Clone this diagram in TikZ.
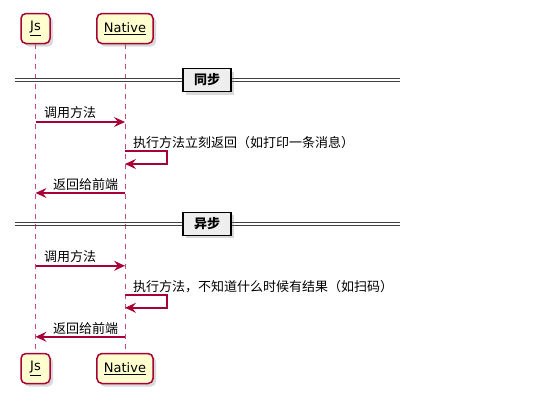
\documentclass[tikz,border=0pt]{standalone}
\usepackage{fontspec}
\setmainfont{DejaVu Sans}
\newfontfamily\cjk{Noto Sans CJK SC}
\usetikzlibrary{arrows.meta,shadows}
\definecolor{umlred}{HTML}{A80036}
\definecolor{umlyellow}{HTML}{FEFECE}
\definecolor{sepgrey}{HTML}{EEEEEE}
\begin{document}
\begin{tikzpicture}[x=1pt,y=-1pt,
		every node/.style={font=\fontsize{13}{15}\selectfont},
		actor/.style={draw=umlred,line width=1.5pt,fill=umlyellow,rounded corners=5pt,
				minimum height=30pt,inner xsep=7pt,
				drop shadow={shadow xshift=3pt,shadow yshift=-3pt,opacity=0.3}},
		lifeline/.style={draw=umlred!70,line width=1pt,dash pattern=on 5pt off 5pt},
		sepline/.style={black!75,line width=1.2pt},
		seplabel/.style={draw=black,line width=1.5pt,fill=sepgrey,minimum width=48pt,
				minimum height=23pt,font=\fontsize{13}{15}\selectfont\cjk\bfseries,
				drop shadow={shadow xshift=3pt,shadow yshift=-3pt,opacity=0.3}},
		msg/.style={umlred,line width=1.4pt,-{Stealth[length=11pt,width=10pt,inset=4pt]}},
		msglabel/.style={anchor=west,inner sep=0pt,font=\fontsize{13}{15}\selectfont\cjk}]
	\useasboundingbox (0,0) rectangle (560,402);
	\foreach \n/\t/\x/\w in {js/Js/35.5/29,native/Native/125/56} {
			\draw[lifeline] (\x,44) -- (\x,354);
			\node[actor,minimum width=\w pt] (\n-top) at (\x,28.5) {\underline{\t}};
			\node[actor,minimum width=\w pt] (\n-bot) at (\x,368.5) {\underline{\t}};
		}
	\foreach \y/\t/\s [count=\i] in {0/同步/执行方法立刻返回（如打印一条消息）,143.8/异步/执行方法，不知道什么时候有结果（如扫码）} {
			\begin{scope}[shift={(0,\y)}]
				% separator
				\draw[sepline] (15,78.3) -- (400,78.3);
				\draw[sepline] (15,81.7) -- (400,81.7);
				\node[seplabel] (sep\i) at (207,80) {\t};
				% call
				\node[msglabel] (call\i) at (44,113) {调用方法};
				\draw[msg] (js-top |- 0,122) -- (native-top |- 0,122);
				% self
				\node[msglabel] (self\i) at (133,143) {\s};
				\coordinate (corner\i) at (167,164);
				\draw[msg] (native-top |- 0,151) -| (corner\i) -- (native-top |- 0,164);
				% return
				\node[msglabel] (back\i) at (53,185) {返回给前端};
				\draw[msg] (native-top |- 0,193) -- (js-top |- 0,193);
			\end{scope}
		}
\end{tikzpicture}
\end{document}
